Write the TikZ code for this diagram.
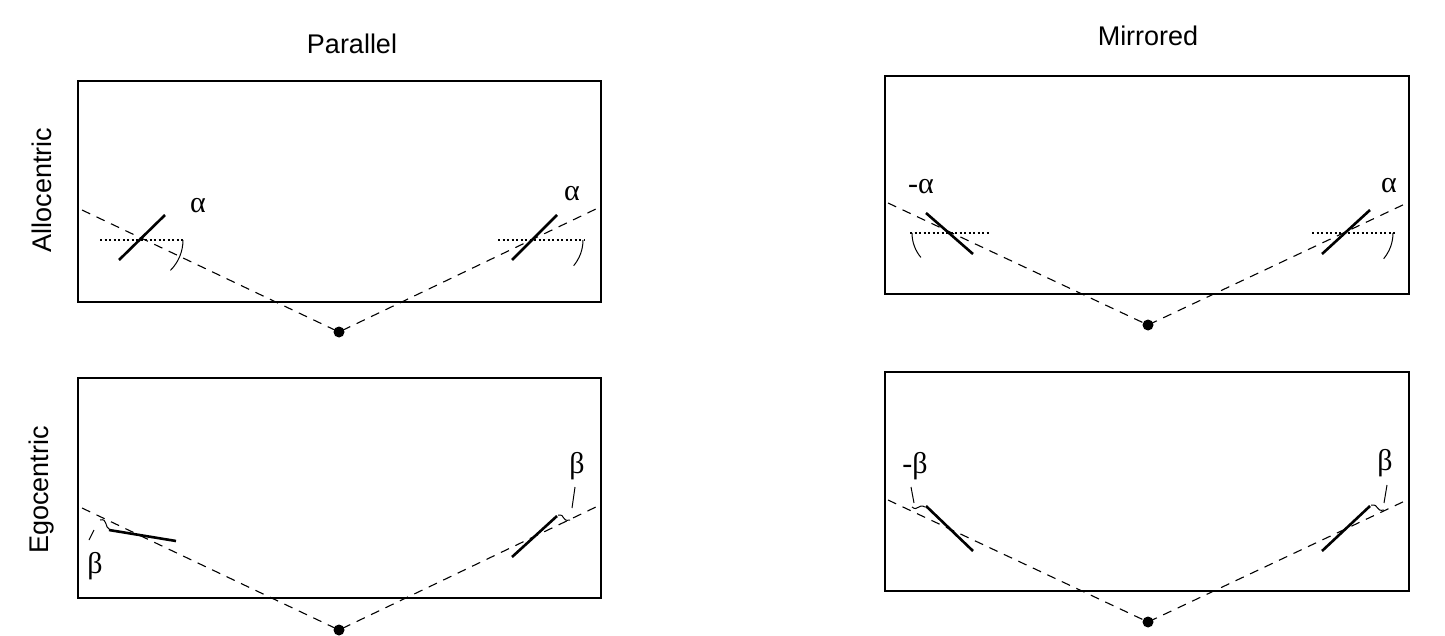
\documentclass[tikz,border=0pt]{standalone}
\usepackage{fontspec}
\setmainfont{Liberation Sans}
\newfontfamily\grk{Liberation Serif}
\begin{document}
\begin{tikzpicture}[x=1pt,y=-1pt,
  frame/.style={draw,line width=1.5pt},
  ray/.style={draw,dashed,line width=1.1pt,dash pattern=on 9pt off 7pt},
  ref/.style={draw,line width=1.1pt,dash pattern=on 2pt off 2.5pt},
  bar/.style={draw,line width=2.6pt},
  thin/.style={draw,line width=1pt},
  lbl/.style={font=\fontsize{27}{30}\selectfont,inner sep=0pt},
  glbl/.style={font=\grk\fontsize{30}{32}\selectfont,inner sep=0pt}]
\useasboundingbox (0,0) rectangle (1445,636);
% titles
\node[lbl] (t1) at (352,44) {Parallel};
\node[lbl] (t2) at (1148,36) {Mirrored};
\node[lbl,rotate=90] (r1) at (42,190) {Allocentric};
\node[lbl,rotate=90] (r2) at (42,490) {Egocentric};
% ---------- TL
\draw[frame] (78,81) rectangle (601,302);
\fill (339,332) circle (5.5) coordinate (d1);
\coordinate (a1) at (82,210); \coordinate (b1) at (598,208);
\draw[ray] (a1) -- (d1) -- (b1);
\draw[bar] (119,260) -- (165,215);
\draw[ref] (100,240) -- (185,240);
\draw[thin] (183,240) arc (0:45:43);
\node[glbl] (al1) at (198,206) {α};
\draw[bar] (512,260) -- (557,215);
\draw[ref] (498,240) -- (585,240);
\draw[thin] (583,240) arc (0:40:40);
\node[glbl] (al2) at (572,194) {α};
% ---------- TR
\draw[frame] (885,76) rectangle (1409,294);
\fill (1148,325) circle (5.5) coordinate (d2);
\coordinate (a2) at (888,203); \coordinate (b2) at (1407,203);
\draw[ray] (a2) -- (d2) -- (b2);
\draw[bar] (926,213) -- (973,254);
\draw[ref] (910,233) -- (990,233);
\draw[thin] (912,233) arc (180:140:38);
\node[glbl] (al3) at (921,187) {-α};
\draw[bar] (1322,254) -- (1370,210);
\draw[ref] (1312,233) -- (1397,233);
\draw[thin] (1393,233) arc (0:40:40);
\node[glbl] (al4) at (1389,186) {α};
% ---------- BL
\draw[frame] (78,378) rectangle (601,598);
\fill (339,630) circle (5.5) coordinate (d3);
\coordinate (a3) at (82,508); \coordinate (b3) at (598,506);
\draw[ray] (a3) -- (d3) -- (b3);
\draw[bar] (109,530) -- (176,541);
\draw[thin] (100,520) .. controls (108,518) and (104,527) .. (110,530);
\draw[thin] (89,540) -- (94,530);
\node[glbl] (be1) at (95,566) {β};
\draw[bar] (512,557) -- (557,516);
\draw[thin] (558,515) .. controls (566,514) and (561,522) .. (570,520);
\draw[thin] (575,487) -- (572,508);
\node[glbl] (be2) at (577,466) {β};
% ---------- BR
\draw[frame] (885,372) rectangle (1409,591);
\fill (1148,622) circle (5.5) coordinate (d4);
\coordinate (a4) at (888,500); \coordinate (b4) at (1407,500);
\draw[ray] (a4) -- (d4) -- (b4);
\draw[bar] (926,506) -- (973,551);
\draw[thin] (912,507) .. controls (918,512) and (918,503) .. (925,507);
\draw[thin] (911,487) -- (914,503);
\node[glbl] (be3) at (915,466) {-β};
\draw[bar] (1322,551) -- (1370,506);
\draw[thin] (1371,505) .. controls (1380,504) and (1375,512) .. (1384,510);
\draw[thin] (1387,485) -- (1384,503);
\node[glbl] (be4) at (1385,463) {β};
\end{tikzpicture}
\end{document}
